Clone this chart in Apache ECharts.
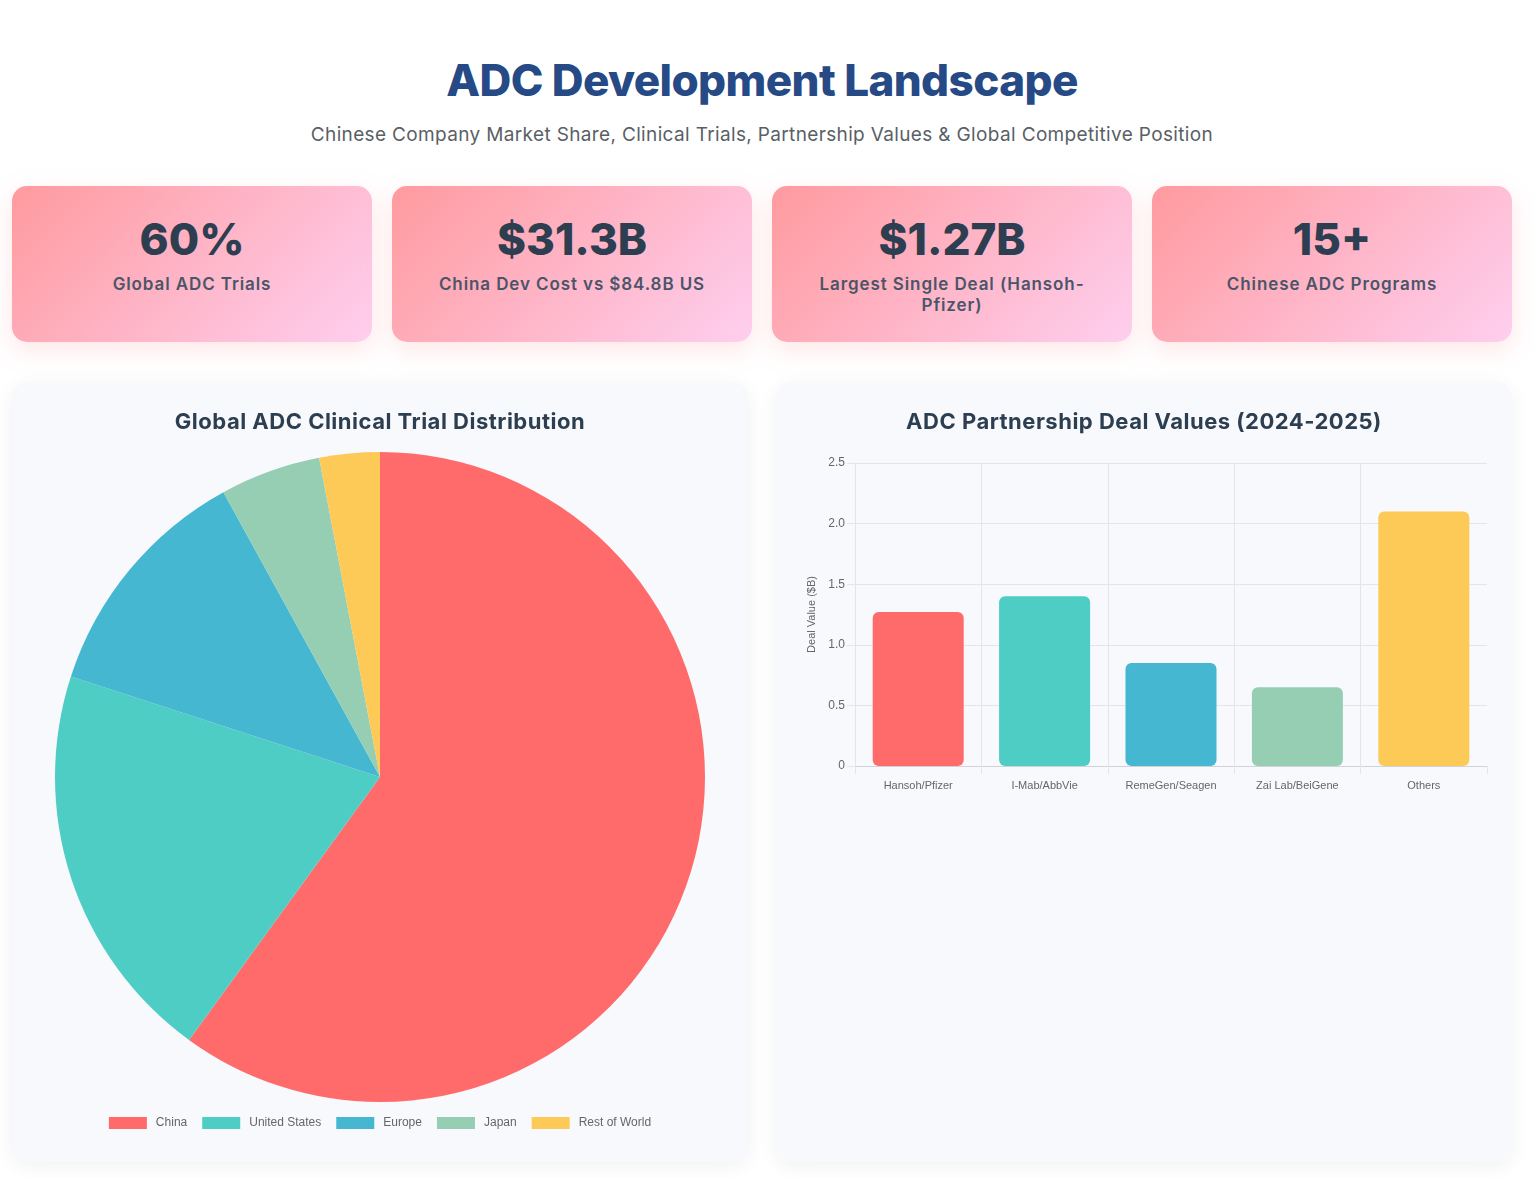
<!DOCTYPE html>
<html>
<head>
<meta charset="utf-8">
<title>ADC Development Landscape</title>
<script src="https://cdn.jsdelivr.net/npm/echarts@6/dist/echarts.min.js"></script>
<style>
  body{margin:0;background:#fff;font-family:Inter,"Noto Sans",sans-serif;}
  .page{position:relative;width:1534px;height:1178px;overflow:hidden;}
  .header h1{position:absolute;left:12px;width:1500px;top:52px;margin:0;text-align:center;
    font-size:44px;line-height:56px;font-weight:800;color:#264a85;letter-spacing:-0.6px;}
  .header p{position:absolute;left:12px;width:1500px;top:123px;margin:0;text-align:center;
    font-size:19px;line-height:24px;color:#5a5f66;letter-spacing:0.35px;}
  .card{position:absolute;top:186px;width:360px;height:156px;border-radius:15px;
    background:linear-gradient(135deg,#ff9a9e 0%,#fecfef 100%);
    box-shadow:0 8px 25px rgba(255,154,158,0.25);text-align:center;}
  .card .big{margin-top:26px;font-size:44px;line-height:54px;font-weight:800;color:#2c3e50;}
  .card .lbl{margin:8px 30px 0;font-size:17px;line-height:21px;font-weight:600;color:#4a5568;letter-spacing:0.9px;}
  .panel{position:absolute;top:382px;width:736px;height:780px;border-radius:15px;background:#f7f9fc;
    box-shadow:0 4px 20px rgba(0,0,0,0.06);}
  .panel h3{position:absolute;left:0;width:100%;top:27px;margin:0;text-align:center;
    font-size:22px;line-height:24px;font-weight:700;color:#2c3e50;letter-spacing:0.5px;z-index:2;}
  .chart{position:absolute;left:0;top:0;width:736px;height:780px;}
</style>
</head>
<body>
<div class="page">
  <div class="header">
    <h1>ADC Development Landscape</h1>
    <p>Chinese Company Market Share, Clinical Trials, Partnership Values &amp; Global Competitive Position</p>
  </div>

  <div class="card" style="left:12px"><div class="big">60%</div><div class="lbl">Global ADC Trials</div></div>
  <div class="card" style="left:392px"><div class="big">$31.3B</div><div class="lbl">China Dev Cost vs $84.8B US</div></div>
  <div class="card" style="left:772px"><div class="big">$1.27B</div><div class="lbl">Largest Single Deal (Hansoh-Pfizer)</div></div>
  <div class="card" style="left:1152px"><div class="big">15+</div><div class="lbl">Chinese ADC Programs</div></div>

  <div class="panel" style="left:12px">
    <h3>Global ADC Clinical Trial Distribution</h3>
    <div class="chart" id="pieChart"></div>
  </div>
  <div class="panel" style="left:776px">
    <h3>ADC Partnership Deal Values (2024-2025)</h3>
    <div class="chart" id="barChart"></div>
  </div>
</div>

<script type="text/javascript">
  // 数据
  var regions = ['China', 'United States', 'Europe', 'Japan', 'Rest of World'];
  var trialShare = [60, 20, 12, 5, 3];

  var deals = ['Hansoh/Pfizer', 'I-Mab/AbbVie', 'RemeGen/Seagen', 'Zai Lab/BeiGene', 'Others'];
  var dealValues = [1.27, 1.4, 0.85, 0.65, 2.1];

  var palette = ['#ff6b6b', '#4ecdc4', '#45b7d1', '#96ceb4', '#feca57'];
  var chartFont = '"Liberation Sans", Helvetica, Arial, sans-serif';

  // 饼图
  var pieChart = echarts.init(document.getElementById('pieChart'));
  pieChart.setOption({
    animation: false,
    color: palette,
    legend: {
      left: 'center',
      top: 730,
      icon: 'rect',
      itemWidth: 38,
      itemHeight: 12,
      itemGap: 15,
      textStyle: {color: '#666', fontSize: 12, fontFamily: chartFont, padding: [0, 0, 0, 4]},
      data: regions
    },
    series: [{
      type: 'pie',
      center: [368, 395],
      radius: 325,
      startAngle: 90,
      clockwise: true,
      label: {show: false},
      labelLine: {show: false},
      emphasis: {disabled: true},
      data: regions.map(function (r, i) { return {name: r, value: trialShare[i]}; })
    }]
  });

  // 柱状图
  var barChart = echarts.init(document.getElementById('barChart'));
  barChart.setOption({
    animation: false,
    grid: {left: 79, top: 81, width: 632, height: 303},
    xAxis: {
      type: 'category',
      data: deals,
      axisLine: {lineStyle: {color: '#cfd2d6'}},
      axisTick: {show: true, length: 8, lineStyle: {color: '#e3e5e8'}},
      splitLine: {show: true, showMaxLine: false, lineStyle: {color: '#e3e5e8'}},
      axisLabel: {color: '#666', fontSize: 11, margin: 14, fontFamily: chartFont}
    },
    yAxis: {
      type: 'value',
      min: 0,
      max: 2.5,
      interval: 0.5,
      name: 'Deal Value ($B)',
      nameLocation: 'middle',
      nameGap: 36,
      nameTextStyle: {color: '#666', fontSize: 11, fontFamily: chartFont},
      axisLine: {show: true, lineStyle: {color: '#e3e5e8'}},
      axisTick: {show: true, length: 8, lineStyle: {color: '#e3e5e8'}},
      splitLine: {lineStyle: {color: '#e3e5e8'}},
      axisLabel: {
        color: '#666', fontSize: 12, margin: 10, fontFamily: chartFont,
        formatter: function (v) { return v === 0 ? '0' : v.toFixed(1); }
      }
    },
    series: [{
      type: 'bar',
      barWidth: '72%',
      emphasis: {disabled: true},
      data: dealValues.map(function (v, i) {
        return {value: v, itemStyle: {color: palette[i], borderRadius: 6}};
      })
    }]
  });
</script>
</body>
</html>
